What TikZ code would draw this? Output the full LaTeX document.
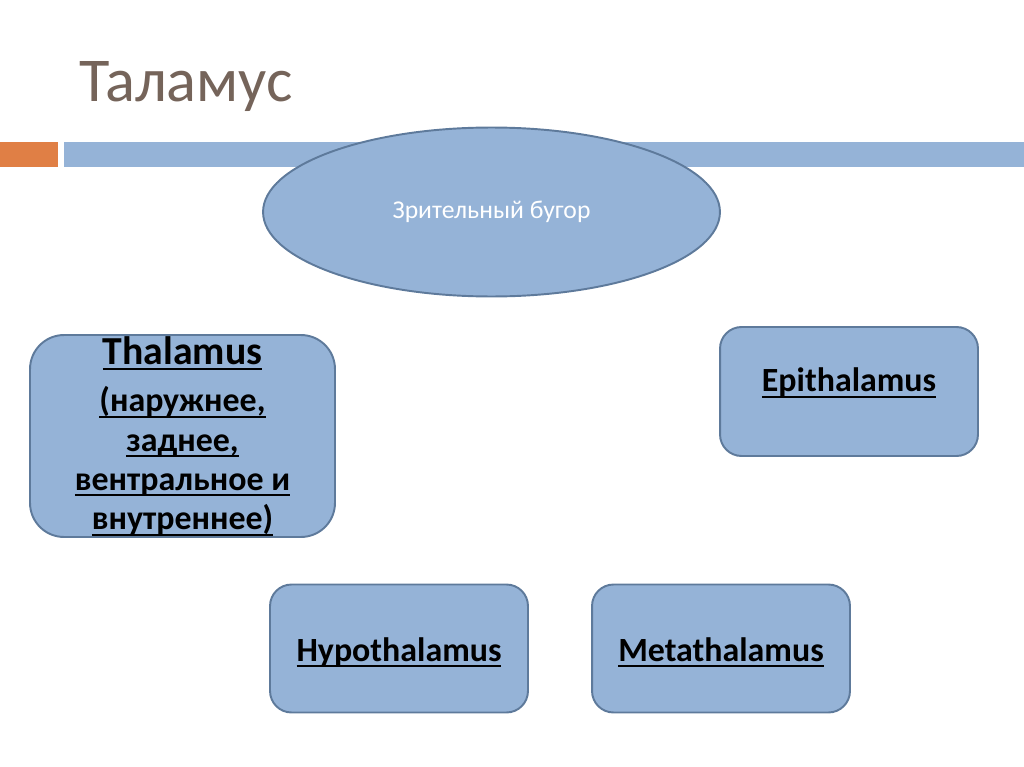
\documentclass[tikz,border=0pt]{standalone}
\usepackage{fontspec}
\setmainfont{Carlito}
\usetikzlibrary{shapes.geometric}
\newcommand{\ulined}[1]{\setbox0\hbox{#1}\rlap{\rule[-3.3pt]{\wd0}{1.1pt}}\box0}
\definecolor{slideblue}{HTML}{95B3D7}
\definecolor{edgeblue}{HTML}{5E7A9B}
\definecolor{slideorange}{HTML}{E07F45}
\definecolor{titlebrown}{HTML}{75645A}

\begin{document}
\begin{tikzpicture}[x=0.02cm,y=-0.02cm,
  partbox/.style={draw=edgeblue,line width=1.1pt,fill=slideblue,
    minimum width=5.16cm,minimum height=2.56cm,inner sep=0pt,outer sep=0pt,
    rounded corners=0.43cm,align=center,
    font=\fontsize{19.3}{22.4}\selectfont\bfseries}]
\useasboundingbox (0,0) rectangle (1024,767);
% header
\node[anchor=base west,text=titlebrown,font=\fontsize{35.5}{40}\selectfont,inner sep=0pt] (title) at (79,102) {Таламус};
\fill[slideorange] (0,142) rectangle (58,167);
\fill[slideblue] (64,142) rectangle (1024,167);
% center ellipse
\node[ellipse,draw=edgeblue,line width=1.1pt,fill=slideblue,
  minimum width=9.14cm,minimum height=3.38cm,inner sep=0pt,
  text=white,font=\fontsize{14.6}{17}\selectfont] (bugor) at (491.5,212) {Зрительный бугор};
% parts
\node[partbox,minimum width=6.1cm,minimum height=4.04cm,rounded corners=0.68cm] (thal) at (182.5,436)
  {{\fontsize{22.6}{24}\selectfont\ulined{Thalamus}}\\[4.8pt]\ulined{(наружнее,}\\\ulined{заднее,}\\\ulined{вентральное и}\\\ulined{внутреннее)}};
\node[partbox,minimum height=2.58cm,text height=13pt,text depth=12.5pt] (epi) at (849,391.5) {\ulined{Epithalamus}};
\node[partbox,text height=19pt,text depth=4.5pt] (hypo) at (399,648.5) {\ulined{Hypothalamus}};
\node[partbox,text height=19pt,text depth=4.5pt] (meta) at (721,648.5) {\ulined{Metathalamus}};
\end{tikzpicture}
\end{document}
